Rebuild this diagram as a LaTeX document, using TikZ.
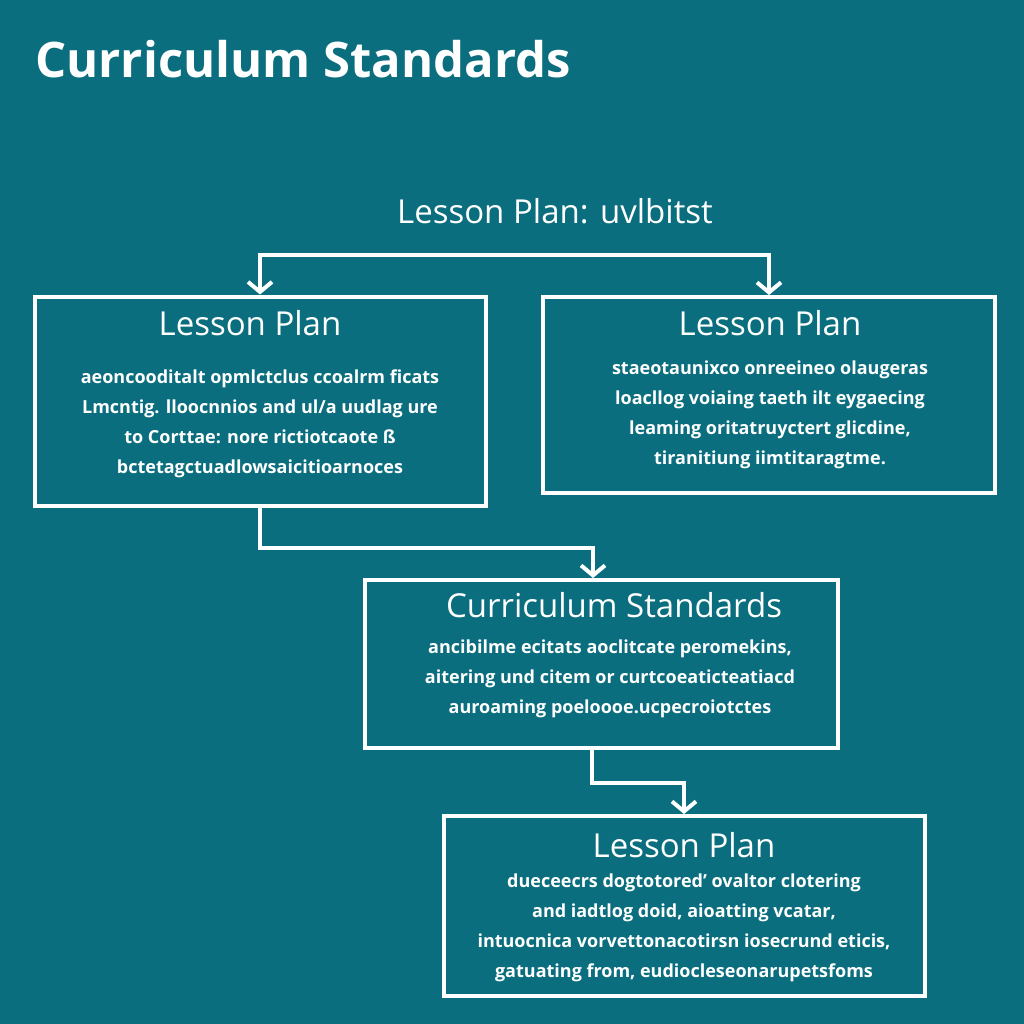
\documentclass[tikz,border=0pt]{standalone}
\usepackage{fontspec}
\setmainfont{Open Sans}
\usetikzlibrary{arrows.meta,positioning}
\definecolor{bgteal}{RGB}{10,110,126}
\begin{document}
\begin{tikzpicture}[x=1pt,y=-1pt,
  box/.style={draw=white,line width=4pt,inner sep=0pt},
  boxtitle/.style={anchor=base,text=white,inner sep=0pt,font=\fontsize{33}{38}\selectfont},
  boxbody/.style={anchor=north,text=white,inner sep=0pt,align=center,
    font=\fontsize{18}{30}\selectfont\bfseries},
  link/.style={draw=white,line width=4pt,-{Straight Barb[length=10pt,width=24pt]}},
  twolink/.style={draw=white,line width=4pt,{Straight Barb[length=10pt,width=24pt]}-{Straight Barb[length=10pt,width=24pt]}}]
\fill[bgteal] (0,0) rectangle (1024,1024);
\useasboundingbox (0,0) rectangle (1024,1024);
\node[anchor=base west,text=white,inner sep=0pt,font=\fontsize{49}{56}\selectfont\bfseries] (title) at (35,78) {Curriculum Standards};
\node[anchor=base,text=white,inner sep=0pt,font=\fontsize{33}{38}\selectfont] (head) at (555,224) {Lesson Plan: uvlbitst};
% boxes
\node[box,minimum width=451pt,minimum height=209pt] (b1) at (260,401) {};
\node[box,minimum width=452pt,minimum height=196pt] (b2) at (769,395) {};
\node[box,minimum width=473pt,minimum height=168pt] (b3) at (601,664) {};
\node[box,minimum width=481pt,minimum height=180pt] (b4) at (684,906) {};
% box texts
\node[boxtitle] (t1) at (250,335) {Lesson Plan};
\node[boxbody] (d1) at (260,370) {aeoncooditalt opmlctclus ccoalrm ficats\\
  Lmcntig. lloocnnios and ul/a uudlag ure\\
  to Corttae: nore rictiotcaote ß\\
  bctetagctuadlowsaicitioarnoces};
\node[boxtitle] (t2) at (770,335) {Lesson Plan};
\node[boxbody] (d2) at (770,361) {staeotaunixco onreeineo olaugeras\\
  loacllog voiaing taeth ilt eygaecing\\
  leaming oritatruyctert glicdine,\\
  tiranitiung iimtitaragtme.};
\node[boxtitle] (t3) at (614,617) {Curriculum Standards};
\node[boxbody] (d3) at (610,640) {ancibilme ecitats aoclitcate peromekins,\\
  aitering und citem or curtcoeaticteatiacd\\
  auroaming poeloooe.ucpecroiotctes};
\node[boxtitle] (t4) at (684,857) {Lesson Plan};
\node[boxbody] (d4) at (684,874) {dueceecrs dogtotored' ovaltor clotering\\
  and iadtlog doid, aioatting vcatar,\\
  intuocnica vorvettonacotirsn iosecrund eticis,\\
  gatuating from, eudiocleseonarupetsfoms};
% connectors
\draw[twolink] (b1.north) -- ++(0,-40) -| (b2.north);
\draw[link] (b1.south) |- ([xshift=-8pt,yshift=30pt]b3.north) -- ([xshift=-8pt]b3.north);
\draw[link] ([xshift=-9pt]b3.south) |- ([yshift=31pt]b4.north) -- (b4.north);
\end{tikzpicture}
\end{document}
